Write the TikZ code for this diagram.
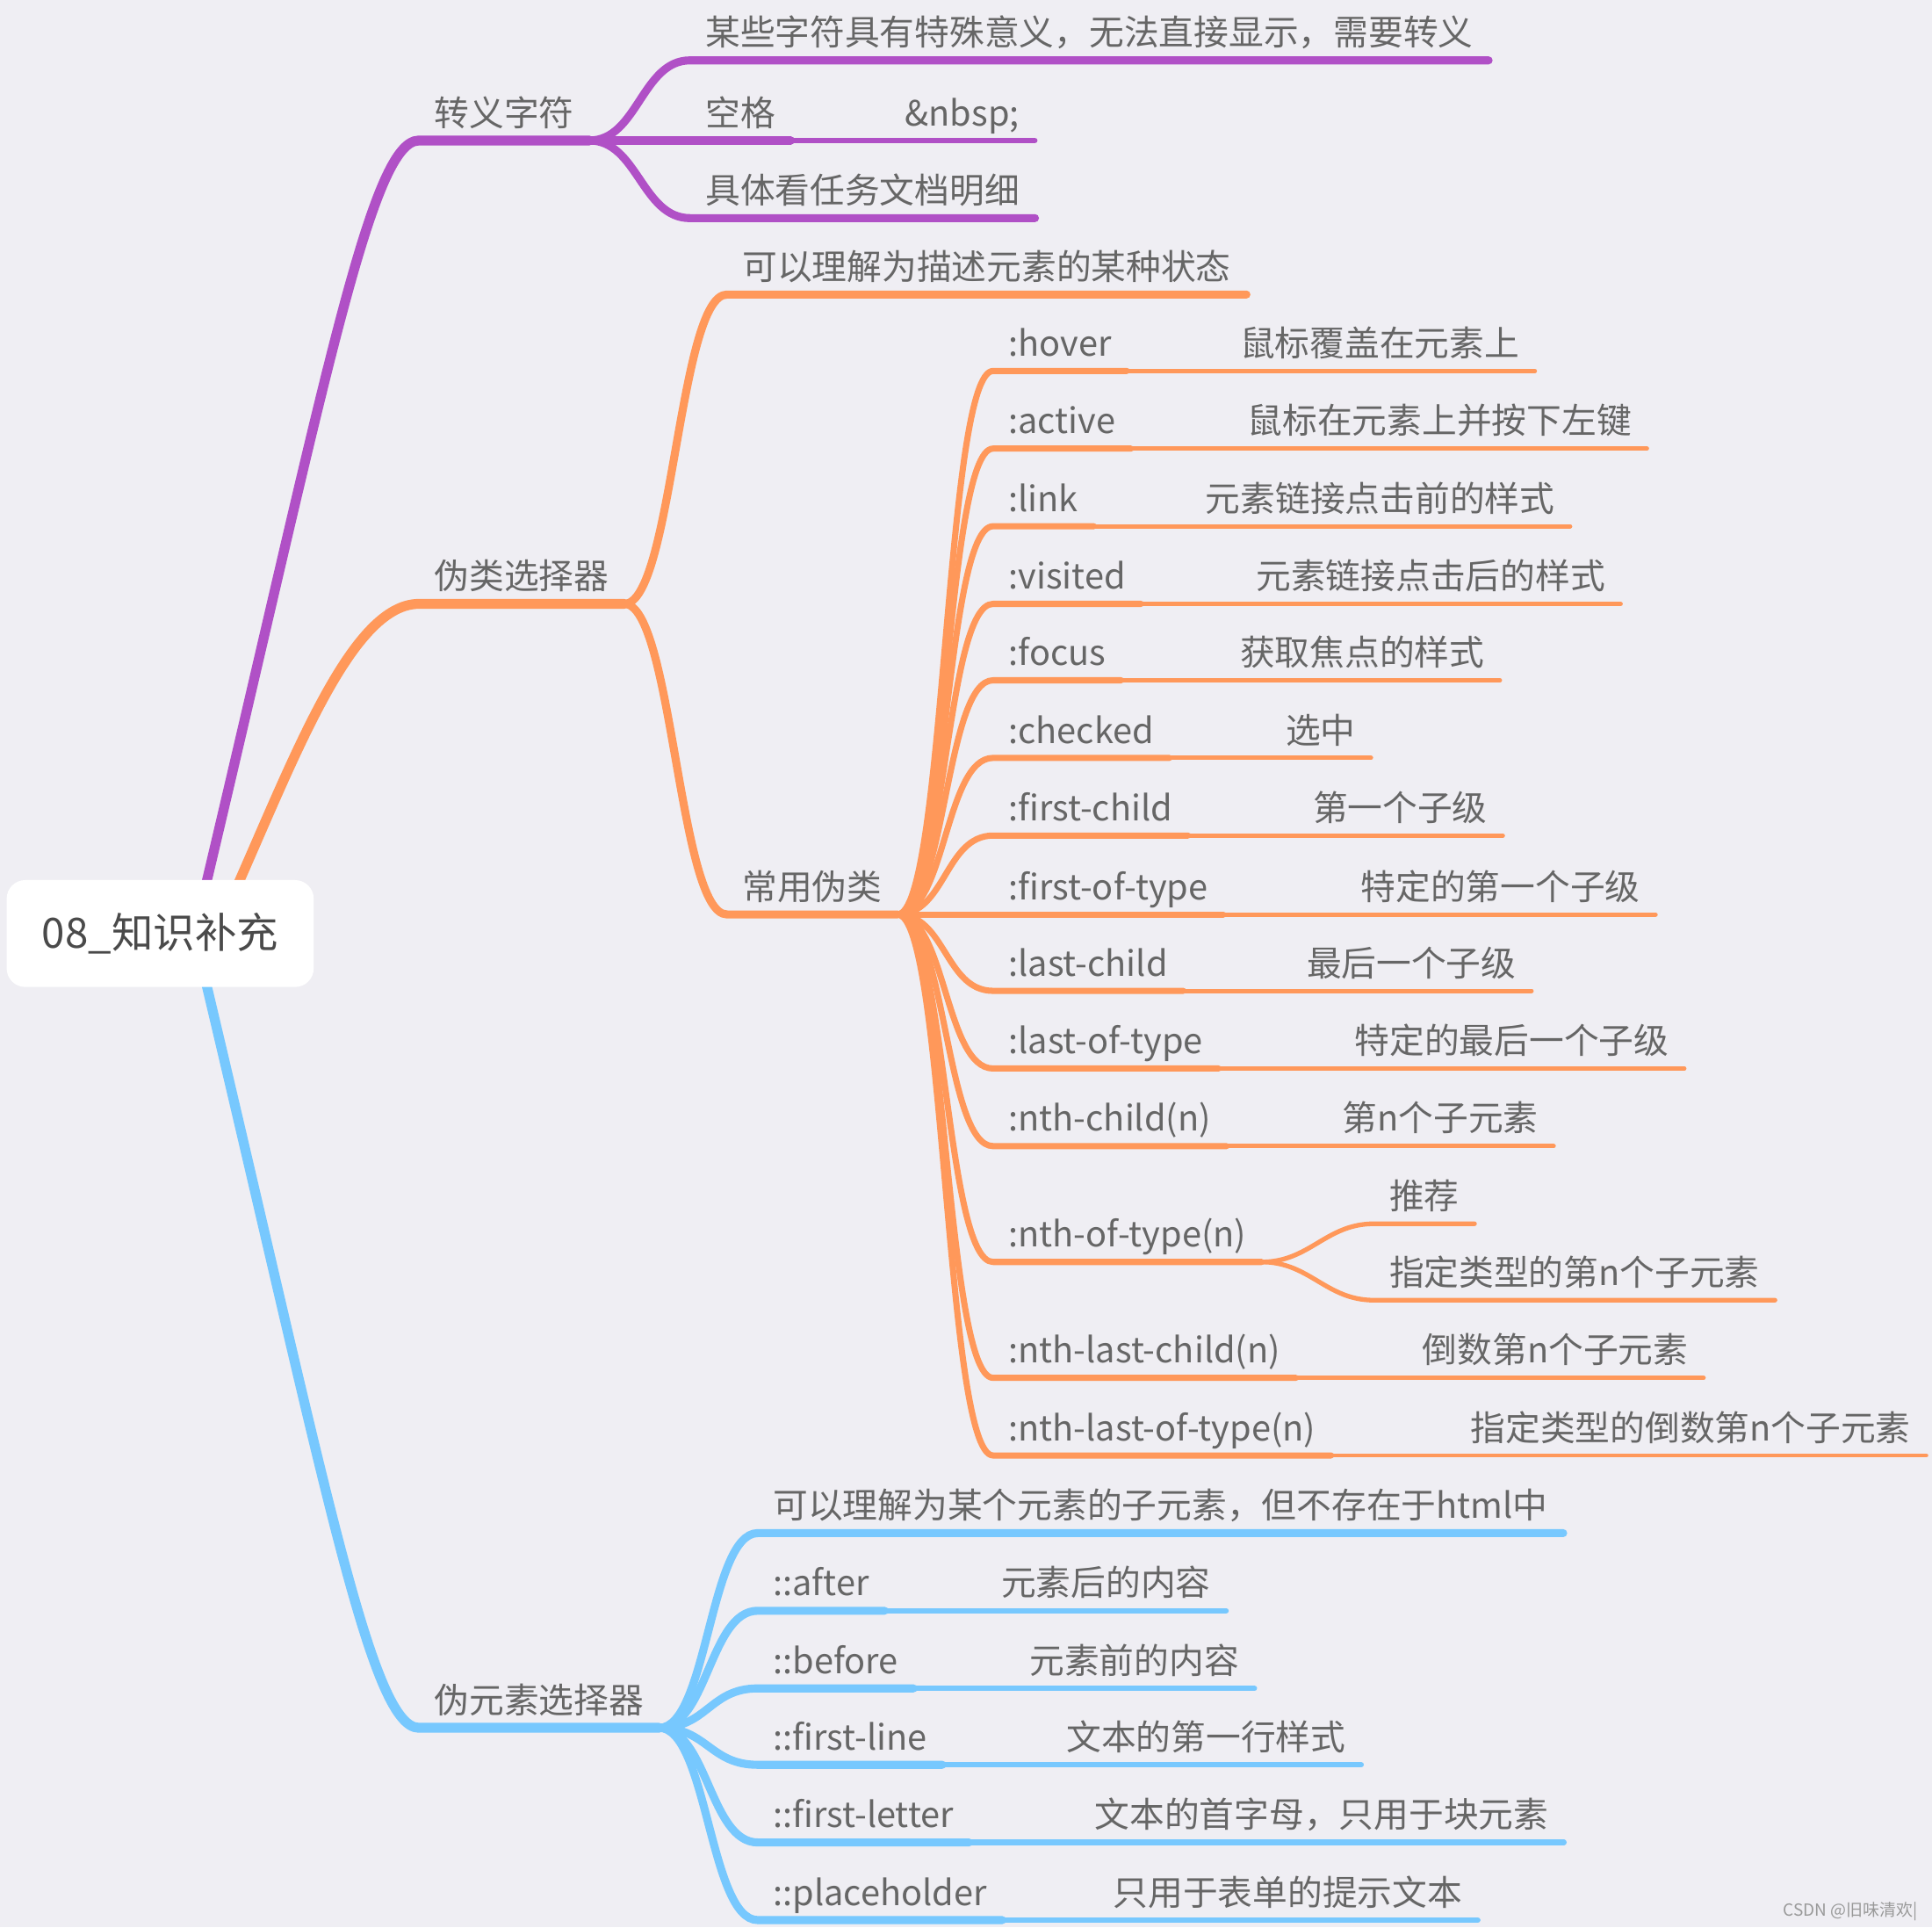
\documentclass[tikz,border=0pt]{standalone}
\usepackage{fontspec}
\setmainfont{Noto Sans CJK SC}
\usetikzlibrary{calc}
\definecolor{pur}{HTML}{B050C6}
\definecolor{ora}{HTML}{FF985A}
\definecolor{blu}{HTML}{77C8FE}
\definecolor{bgc}{HTML}{EFEEF3}
\definecolor{txt}{HTML}{666666}
\definecolor{roottxt}{HTML}{4A4A4A}
\pgfdeclarelayer{canvas}
\pgfdeclarelayer{links}
\pgfsetlayers{canvas,links,main}
\newcommand\mmlink[3]{\draw[#1] (#2) .. controls +(39,0) and +(-39,0) .. (#3.south west) -- (#3.south east);}
\newcommand\mmtail[3]{\draw[#1] (#2.south east) -- (#3.south east);}
\begin{document}
\begin{tikzpicture}[x=0.01403cm,y=-0.01403cm,
  lbl/.style={anchor=south west, inner xsep=4.8pt, inner ysep=0pt, text height=9pt, text depth=4.6pt, font=\fontsize{11.3}{13}\selectfont, text=txt},
  rootbox/.style={fill=white, rounded corners=6pt, minimum width=99.4pt, minimum height=34.6pt, inner sep=0pt, font=\fontsize{13.5}{15}\selectfont, text=roottxt},
  mainline/.style={line width=3.2pt, line cap=round, line join=round},
  ltwo/.style={line width=2.6pt, line cap=round, line join=round},
  ltwothin/.style={line width=1.8pt, line cap=round},
  lthree/.style={line width=2.0pt, line cap=round, line join=round},
  lthreethin/.style={line width=1.4pt, line cap=round},
  lfour/.style={line width=1.5pt, line cap=round, line join=round}
]
\begin{pgfonlayer}{canvas}
\fill[bgc] (0,0) rectangle (1568,1564);
\end{pgfonlayer}
\useasboundingbox (0,0) rectangle (1568,1564);

% root
\node[rootbox] (root) at (130,757.5) {08\_知识补充};

% level 1
\node[lbl] (b1) at (340,114) {转义字符};
\node[lbl] (b2) at (340,490) {伪类选择器};
\node[lbl] (b3) at (340,1402) {伪元素选择器};

% purple children
\node[lbl] (p1) at (560,49) {某些字符具有特殊意义，无法直接显示，需要转义};
\node[lbl] (p2) at (560,114) {空格};
\node[lbl] (p2b) at (722,114) {\&nbsp;};
\node[lbl] (p3) at (560,177) {具体看任务文档明细};

% orange children
\node[lbl] (o1) at (590,239) {可以理解为描述元素的某种状态};
\node[lbl] (o2) at (590,742) {常用伪类};

\node[lbl] (oa) at (806,301) {:hover};
\node[lbl] (oa2) at (994,301) {鼠标覆盖在元素上};
\node[lbl] (ob) at (806,364) {:active};
\node[lbl] (ob2) at (1000,364) {鼠标在元素上并按下左键};
\node[lbl] (oc) at (806,427) {:link};
\node[lbl] (oc2) at (966,427) {元素链接点击前的样式};
\node[lbl] (od) at (806,490) {:visited};
\node[lbl] (od2) at (1007,490) {元素链接点击后的样式};
\node[lbl] (oe) at (806,552) {:focus};
\node[lbl] (oe2) at (994,552) {获取焦点的样式};
\node[lbl] (of) at (806,615) {:checked};
\node[lbl] (of2) at (1031,615) {选中};
\node[lbl] (og) at (806,678) {:first-child};
\node[lbl] (og2) at (1053,678) {第一个子级};
\node[lbl] (oh) at (806,742) {:first-of-type};
\node[lbl] (oh2) at (1092,742) {特定的第一个子级};
\node[lbl] (oi) at (806,804) {:last-child};
\node[lbl] (oi2) at (1048,804) {最后一个子级};
\node[lbl] (oj) at (806,867) {:last-of-type};
\node[lbl] (oj2) at (1087,867) {特定的最后一个子级};
\node[lbl] (ok) at (806,930) {:nth-child(n)};
\node[lbl] (ok2) at (1077,930) {第n个子元素};
\node[lbl] (ol) at (806,1024) {:nth-of-type(n)};
\node[lbl] (ola) at (1115,993) {推荐};
\node[lbl] (olb) at (1115,1055) {指定类型的第n个子元素};
\node[lbl] (om) at (806,1118) {:nth-last-child(n)};
\node[lbl] (om2) at (1142,1118) {倒数第n个子元素};
\node[lbl] (on) at (806,1181) {:nth-last-of-type(n)};
\node[lbl] (on2) at (1181,1181) {指定类型的倒数第n个子元素};

% blue children
\node[lbl] (ba) at (615,1244) {可以理解为某个元素的子元素，但不存在于html中};
\node[lbl] (bb) at (615,1307) {::after};
\node[lbl] (bb2) at (800,1307) {元素后的内容};
\node[lbl] (bc) at (615,1370) {::before};
\node[lbl] (bc2) at (823,1370) {元素前的内容};
\node[lbl] (bd) at (615,1432) {::first-line};
\node[lbl] (bd2) at (853,1432) {文本的第一行样式};
\node[lbl] (be) at (615,1495) {::first-letter};
\node[lbl] (be2) at (876,1495) {文本的首字母，只用于块元素};
\node[lbl] (bf) at (615,1558) {::placeholder};
\node[lbl] (bf2) at (891,1558) {只用于表单的提示文本};

% watermark
\node[anchor=base east, inner sep=0pt, font=\fontsize{5.4}{6}\selectfont, text=gray!80] (wm) at (1557,1555) {CSDN @旧味清欢|};

\begin{pgfonlayer}{links}
% main branches
\draw[mainline,pur] ($(root.center)+(27,3)$) .. controls (262,320) and (300,114) .. (b1.south west) -- (b1.south east);
\draw[mainline,ora] ($(root.center)+(45,0)$) .. controls (230,640) and (280,490) .. (b2.south west) -- (b2.south east);
\draw[mainline,blu] ($(root.center)+(27,-3)$) .. controls (262,1194) and (300,1402) .. (b3.south west) -- (b3.south east);

% purple
\mmtail{ltwothin,pur}{p2}{p2b}
\mmlink{ltwo,pur}{b1.south east}{p1}
\mmlink{ltwo,pur}{b1.south east}{p2}
\mmlink{ltwo,pur}{b1.south east}{p3}

% orange level 2
\mmlink{ltwo,ora}{b2.south east}{o1}
\mmlink{ltwo,ora}{b2.south east}{o2}

% orange level 3
\mmtail{lthreethin,ora}{oa}{oa2}
\mmtail{lthreethin,ora}{ob}{ob2}
\mmtail{lthreethin,ora}{oc}{oc2}
\mmtail{lthreethin,ora}{od}{od2}
\mmtail{lthreethin,ora}{oe}{oe2}
\mmtail{lthreethin,ora}{of}{of2}
\mmtail{lthreethin,ora}{og}{og2}
\mmtail{lthreethin,ora}{oh}{oh2}
\mmtail{lthreethin,ora}{oi}{oi2}
\mmtail{lthreethin,ora}{oj}{oj2}
\mmtail{lthreethin,ora}{ok}{ok2}
\mmtail{lthreethin,ora}{om}{om2}
\mmtail{lthreethin,ora}{on}{on2}
\mmlink{lthree,ora}{o2.south east}{oa}
\mmlink{lthree,ora}{o2.south east}{ob}
\mmlink{lthree,ora}{o2.south east}{oc}
\mmlink{lthree,ora}{o2.south east}{od}
\mmlink{lthree,ora}{o2.south east}{oe}
\mmlink{lthree,ora}{o2.south east}{of}
\mmlink{lthree,ora}{o2.south east}{og}
\mmlink{lthree,ora}{o2.south east}{oh}
\mmlink{lthree,ora}{o2.south east}{oi}
\mmlink{lthree,ora}{o2.south east}{oj}
\mmlink{lthree,ora}{o2.south east}{ok}
\mmlink{lthree,ora}{o2.south east}{ol}
\mmlink{lthree,ora}{o2.south east}{om}
\mmlink{lthree,ora}{o2.south east}{on}
% level 4
\mmlink{lfour,ora}{ol.south east}{ola}
\mmlink{lfour,ora}{ol.south east}{olb}

% blue
\mmtail{ltwothin,blu}{bb}{bb2}
\mmtail{ltwothin,blu}{bc}{bc2}
\mmtail{ltwothin,blu}{bd}{bd2}
\mmtail{ltwothin,blu}{be}{be2}
\mmtail{ltwothin,blu}{bf}{bf2}
\mmlink{ltwo,blu}{b3.south east}{ba}
\mmlink{ltwo,blu}{b3.south east}{bb}
\mmlink{ltwo,blu}{b3.south east}{bc}
\mmlink{ltwo,blu}{b3.south east}{bd}
\mmlink{ltwo,blu}{b3.south east}{be}
\mmlink{ltwo,blu}{b3.south east}{bf}
\end{pgfonlayer}
\end{tikzpicture}
\end{document}
